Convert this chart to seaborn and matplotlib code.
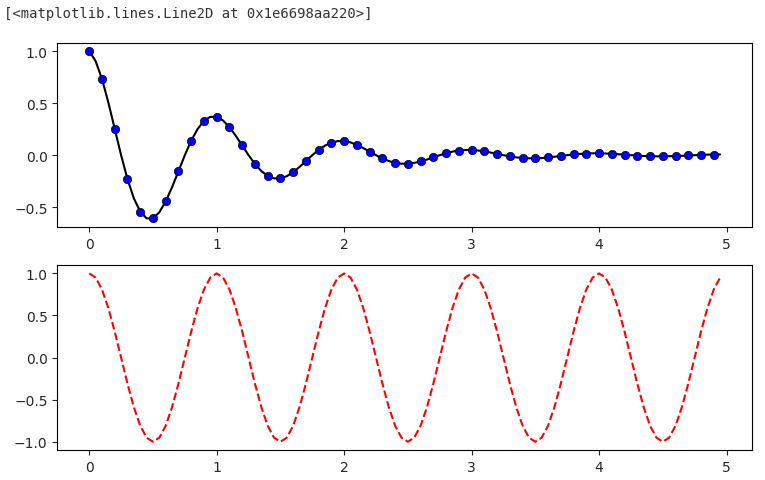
import matplotlib
matplotlib.use("Agg")
import matplotlib.pyplot as plt
import seaborn as sns
import numpy as np

sns.set_style("ticks")
plt.rcParams['font.family'] = ['DejaVu Sans']

# t step 0.05 from 0 to 4.95
t_fine = [round(i * 0.05, 2) for i in range(100)]
damped = [1, .904, .732, .506, .253, 0, -.229, -.415, -.542, -.607, -.607, -.549, -.444, -.307, -.154, 0, .139, .251, .329, .368,
          .368, .333, .269, .186, .093, 0, -.084, -.152, -.200, -.223, -.223, -.202, -.163, -.113, -.057, 0, .051, .092, .121, .135,
          .135, .123, .099, .068, .034, 0, -.031, -.056, -.074, -.082, -.082, -.074, -.060, -.042, -.021, 0, .019, .034, .044, .049,
          .050, .045, .036, .025, .013, 0, -.011, -.021, -.027, -.030, -.030, -.028, -.022, -.015, -.008, 0, .007, .012, .016, .018,
          .018, .016, .014, .009, .005, 0, -.004, -.008, -.010, -.011, -.011, -.010, -.008, -.006, -.003, 0, .002, .005, .006, .007]
cosine = [1, .951, .809, .588, .309, 0, -.309, -.588, -.809, -.951, -1, -.951, -.809, -.588, -.309, 0, .309, .588, .809, .951,
          1, .951, .809, .588, .309, 0, -.309, -.588, -.809, -.951, -1, -.951, -.809, -.588, -.309, 0, .309, .588, .809, .951,
          1, .951, .809, .588, .309, 0, -.309, -.588, -.809, -.951, -1, -.951, -.809, -.588, -.309, 0, .309, .588, .809, .951,
          1, .951, .809, .588, .309, 0, -.309, -.588, -.809, -.951, -1, -.951, -.809, -.588, -.309, 0, .309, .588, .809, .951,
          1, .951, .809, .588, .309, 0, -.309, -.588, -.809, -.951, -1, -.951, -.809, -.588, -.309, 0, .309, .588, .809, .951]
t_dots = t_fine[::2]
damped_dots = damped[::2]

fig = plt.figure(figsize=(7.65, 4.81), dpi=100)
fig.text(0.005, 0.985, "[<matplotlib.lines.Line2D at 0x1e6698aa220>]", family="DejaVu Sans Mono",
         fontsize=10, va="top", ha="left", color="#333333")
ax1 = fig.add_axes([0.075, 0.526, 0.908, 0.383])
ax2 = fig.add_axes([0.075, 0.062, 0.908, 0.385])

sns.lineplot(x=t_fine, y=damped, ax=ax1, color="black", lw=1.5)
ax1.plot(t_dots, damped_dots, "o", color="blue", markersize=6, markeredgecolor="black", markeredgewidth=0.5)
sns.lineplot(x=t_fine, y=cosine, ax=ax2, color="red", lw=1.5, linestyle="--")

for ax in (ax1, ax2):
    ax.set_xticks([0, 1, 2, 3, 4, 5])
    ax.set_xlim(-0.25, 5.2)
    ax.tick_params(labelsize=10)
    for s in ax.spines.values():
        s.set_visible(True)
        s.set_color("black")
        s.set_linewidth(0.8)
ax1.set_yticks([-0.5, 0.0, 0.5, 1.0])
ax1.set_ylim(-0.69, 1.08)
ax2.set_yticks([-1.0, -0.5, 0.0, 0.5, 1.0])
ax2.set_ylim(-1.1, 1.1)

fig.savefig("out.png", dpi=100)
